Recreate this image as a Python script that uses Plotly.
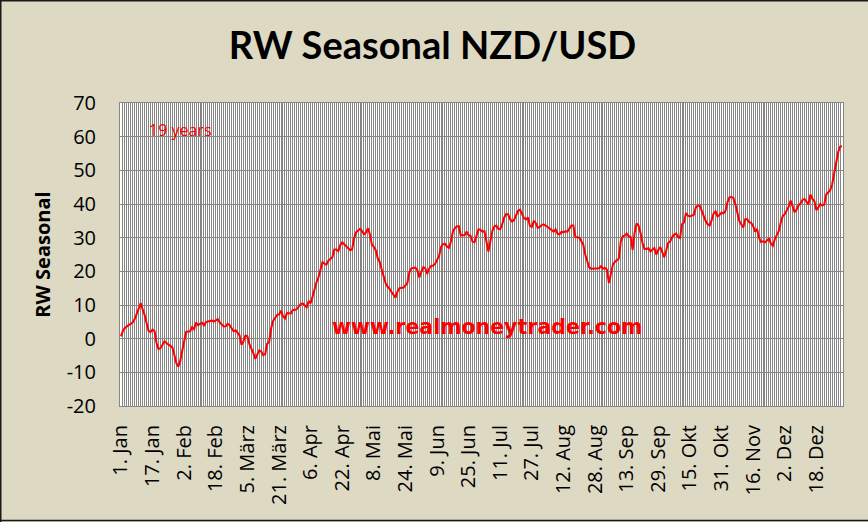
import plotly.graph_objects as go

# ---- data ----
month_names = ["Jan", "Feb", "März", "Apr", "Mai", "Jun", "Jul", "Aug", "Sep", "Okt", "Nov", "Dez"]
month_days = [31, 29, 31, 30, 31, 30, 31, 31, 30, 31, 30, 31]
categories = [f"{d}. {m}" for m, n in zip(month_names, month_days) for d in range(1, n + 1)]

seasonal = [
    0.7, 2.4, 3.2, 3.8, 4.1, 4.4, 4.9, 5.9, 7.3, 8.9,
    10.6, 8.6, 7.0, 4.5, 2.2, 2.0, 2.7, 2.2, -1.3, -3.1,
    -2.8, -1.8, -0.8, -1.3, -1.8, -2.2, -2.6, -4.8, -7.2, -8.3,
    -6.6, -3.6, -1.0, 2.0, 2.1, 2.2, 3.4, 2.8, 4.8, 4.0,
    4.4, 4.7, 4.0, 4.9, 5.1, 5.3, 5.4, 5.1, 5.4, 5.8,
    4.8, 4.2, 3.6, 3.7, 4.4, 4.0, 3.0, 2.2, 2.5, 1.8,
    1.0, -1.8, -0.8, 0.9, 0.7, -1.6, -2.8, -4.3, -6.0, -4.6,
    -3.5, -3.8, -4.9, -4.6, -1.5, -1.0, 3.0, 5.3, 6.2, 7.0,
    7.2, 8.3, 6.7, 6.0, 7.6, 7.6, 7.5, 8.5, 8.5, 8.8,
    9.5, 10.3, 10.5, 10.0, 9.3, 11.2, 10.5, 12.5, 15.0, 16.8,
    18.3, 21.0, 22.7, 22.3, 22.0, 23.2, 23.8, 24.2, 26.5, 26.5,
    26.0, 27.8, 28.6, 28.0, 27.6, 27.1, 26.3, 26.5, 29.8, 31.6,
    32.2, 32.6, 32.0, 31.0, 31.5, 32.8, 31.0, 28.0, 27.3, 26.2,
    23.8, 22.8, 20.5, 18.0, 16.4, 15.4, 14.8, 13.8, 12.8, 12.2,
    14.0, 15.0, 15.1, 15.1, 15.8, 16.6, 19.8, 20.9, 21.0, 21.1,
    20.4, 18.2, 19.8, 21.2, 21.0, 19.2, 20.8, 21.6, 21.7, 22.2,
    23.4, 24.5, 27.2, 28.1, 28.2, 27.4, 27.0, 28.8, 31.8, 32.8,
    33.3, 33.4, 30.7, 30.8, 30.8, 31.8, 30.7, 30.5, 28.8, 28.7,
    31.0, 32.5, 32.3, 31.8, 31.9, 28.4, 25.9, 29.0, 32.0, 33.3,
    33.6, 32.6, 32.5, 34.0, 36.0, 37.0, 36.9, 35.5, 34.8, 35.3,
    36.5, 38.0, 38.3, 37.0, 35.8, 35.4, 36.0, 33.5, 33.2, 35.0,
    34.3, 32.9, 33.2, 33.8, 33.9, 33.6, 33.1, 32.6, 32.2, 31.8,
    32.5, 31.2, 31.0, 31.7, 31.6, 31.9, 31.8, 32.8, 33.6, 33.6,
    30.2, 30.1, 30.0, 29.0, 28.0, 25.0, 23.0, 21.2, 20.8, 20.8,
    20.7, 20.7, 20.9, 21.5, 20.8, 21.0, 20.5, 16.5, 19.5, 22.0,
    22.8, 23.2, 23.8, 28.9, 30.4, 30.6, 31.2, 30.4, 30.2, 26.4,
    31.4, 34.2, 33.6, 31.4, 28.4, 26.6, 26.6, 26.9, 25.9, 26.4,
    26.9, 25.0, 26.4, 27.2, 25.9, 24.2, 26.2, 28.4, 28.9, 30.2,
    30.9, 31.2, 30.2, 29.9, 34.0, 34.5, 37.3, 36.5, 36.3, 36.5,
    36.8, 39.0, 39.5, 39.5, 37.9, 36.2, 34.9, 34.0, 33.6, 35.2,
    37.2, 37.8, 36.3, 36.8, 37.4, 37.2, 38.0, 40.5, 42.0, 42.1,
    41.8, 40.0, 37.5, 35.0, 34.0, 33.0, 35.5, 35.5, 34.6, 34.4,
    33.5, 31.8, 32.6, 30.0, 28.7, 28.9, 28.6, 29.2, 29.7, 28.2,
    27.6, 29.6, 30.9, 32.0, 34.5, 36.4, 37.0, 38.0, 39.2, 41.0,
    39.0, 37.6, 38.3, 39.6, 40.2, 41.2, 41.5, 40.6, 39.9, 42.8,
    41.5, 40.9, 38.2, 39.0, 40.0, 39.5, 39.8, 42.8, 43.5, 44.1,
    45.8, 48.8, 52.0, 55.3, 57.0, 57.2,
]
label_step = 16
tick_text = [c if i % label_step == 0 else "" for i, c in enumerate(categories)]
y_tick_vals = [-20, -10, 0, 10, 20, 30, 40, 50, 60, 70]
y_tick_text = ["-20", "-10", "0", "10", "20", "30", "40", "50", "60", "70"]

# ---- layout geometry ----
W, H = 868, 522
L, R, T, B = 120, 25, 103, 116
PW, PH = W - L - R, H - T - B

def px(x):
    return (x - L) / PW

def py(y):
    return (H - B - y) / PH

BG = "#DDD9C3"
GRID = "#868686"
TICKFONT = "'Open Sans', sans-serif"

fig = go.Figure()
fig.add_trace(go.Scatter(
    x=categories, y=seasonal, mode="lines",
    line=dict(color="#FF0000", width=2), showlegend=False, hoverinfo="x+y",
))

fig.update_layout(
    width=W, height=H,
    margin=dict(l=L, r=R, t=T, b=B),
    paper_bgcolor=BG, plot_bgcolor="white",
    font=dict(family=TICKFONT, color="black"),
    title=dict(text="<b>RW Seasonal NZD/USD</b>", xref="container", x=432.5 / W, xanchor="center",
               yref="container", y=1 - 46 / H, yanchor="middle",
               font=dict(size=38, family="Lato, sans-serif")),
    xaxis=dict(type="category", categoryorder="array", categoryarray=categories,
               range=[-0.5, len(categories) - 0.5],
               tickmode="array", tickvals=categories, ticktext=tick_text,
               tickangle=-90, tickfont=dict(size=20), ticks="", ticklabelstandoff=10,
               showgrid=True, gridcolor=GRID, gridwidth=1,
               showline=True, linecolor=GRID, linewidth=1, mirror=True, zeroline=False),
    yaxis=dict(range=[-20, 70], tickmode="array", tickvals=y_tick_vals, ticktext=y_tick_text,
               tickfont=dict(size=20), ticks="", ticklabelstandoff=19,
               showgrid=True, gridcolor=GRID, gridwidth=1,
               showline=True, linecolor=GRID, linewidth=1, mirror=True, zeroline=False,
               title=dict(text="<b>RW Seasonal</b>", font=dict(size=20), standoff=10)),
    annotations=[
        dict(text="19 years", xref="paper", yref="paper", x=px(147), y=py(130),
             xanchor="left", yanchor="middle", showarrow=False,
             font=dict(size=16, color="#FF0000", family=TICKFONT)),
        dict(text="<b>www.realmoneytrader.com</b>", xref="paper", yref="paper",
             x=px(487), y=py(327), xanchor="center", yanchor="middle", showarrow=False,
             font=dict(size=20.5, color="#FF0000", family="'DejaVu Sans', sans-serif")),
    ],
    shapes=[
        dict(type="line", xref="paper", yref="paper", x0=px(0.75), x1=px(0.75), y0=py(0), y1=py(H),
             line=dict(color="#1a1a1a", width=1.5)),
        dict(type="line", xref="paper", yref="paper", x0=px(0), x1=px(W), y0=py(0.75), y1=py(0.75),
             line=dict(color="#1a1a1a", width=1.5)),
        dict(type="line", xref="paper", yref="paper", x0=px(0), x1=px(W), y0=py(520.5), y1=py(520.5),
             line=dict(color="#1a1a1a", width=1.5)),
    ],
)

fig.write_html("out.html")
